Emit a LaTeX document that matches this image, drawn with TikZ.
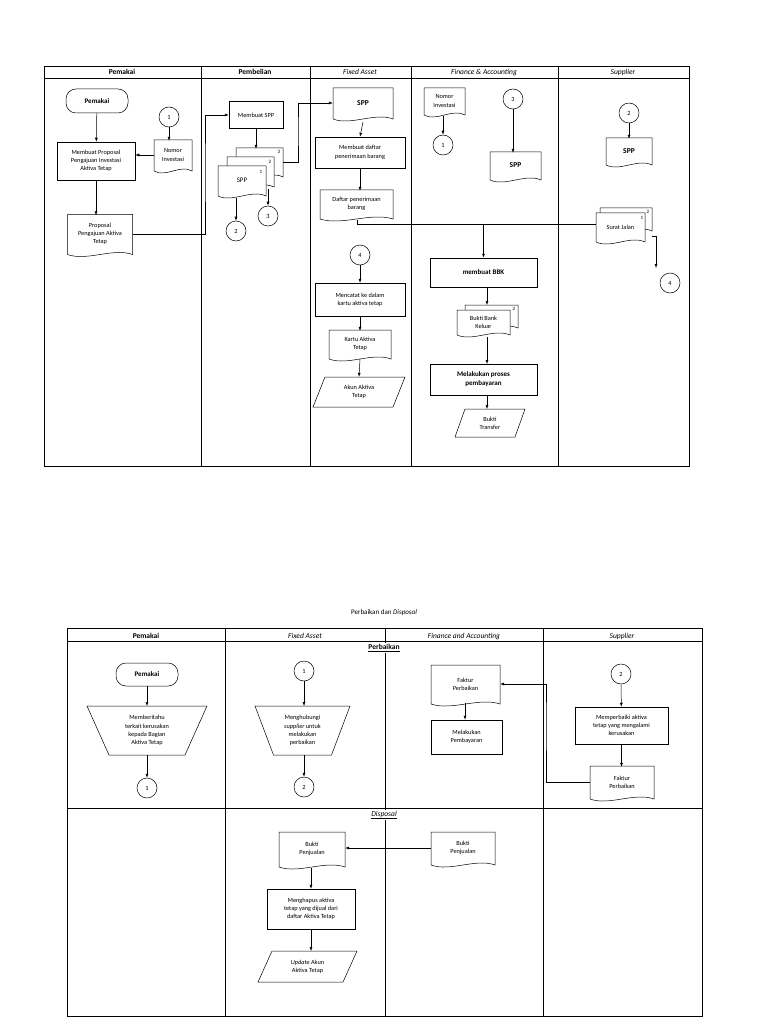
\documentclass[tikz,border=0pt]{standalone}
\usepackage{fontspec}
\setmainfont{Carlito}
\usetikzlibrary{arrows.meta,calc}
\newcommand\docn[6]{%
 \filldraw[fill=white,line width=0.5pt] ({#2-#4/2},{#3-#5/2}) -- ({#2+#4/2},{#3-#5/2}) -- ({#2+#4/2},{#3+#5/2-3}) .. controls +({-0.3*#4},-7) and +({0.3*#4},7) .. ({#2-#4/2},{#3+#5/2-3}) -- cycle;
 \node[base,minimum width=#4pt,minimum height=#5pt-6pt] (#1) at (#2,{#3-2}) {#6};}
\newcommand\manop[7]{%
 \draw[line width=0.5pt] ({#2-#4/2},{#3-#6/2}) -- ({#2+#4/2},{#3-#6/2}) -- ({#2+#5/2},{#3+#6/2}) -- ({#2-#5/2},{#3+#6/2}) -- cycle;
 \node[base,minimum width=#5pt,minimum height=#6pt] (#1) at (#2,#3) {#7};}
\newcommand\para[7]{%
 \draw[line width=0.5pt] ({#2-#4/2+#6},{#3-#5/2}) -- ({#2+#4/2},{#3-#5/2}) -- ({#2+#4/2-#6},{#3+#5/2}) -- ({#2-#4/2},{#3+#5/2}) -- cycle;
 \node[base,minimum width=#4pt-#6pt,minimum height=#5pt] (#1) at (#2,#3) {#7};}
\begin{document}
\begin{tikzpicture}[x=1pt,y=-1pt,
 base/.style={font=\fontsize{6.3}{8.3}\selectfont,align=center,inner sep=1pt},
 box/.style={base,draw,line width=0.5pt},
 conn/.style={base,draw,circle,minimum size=20pt,line width=0.5pt},
 term/.style={base,draw,rounded corners=10pt,line width=0.5pt,font=\fontsize{7}{8}\selectfont\bfseries},
 hdr/.style={inner sep=0pt,anchor=base},
 num/.style={font=\fontsize{5}{6}\selectfont,inner sep=0pt},
 arr/.style={-{Latex[length=4pt,width=3pt]},line width=0.5pt}]
\useasboundingbox (0,0) rectangle (768,1024);
% ---------- top table
\draw[line width=0.8pt] (44,66) rectangle (689,466);
\draw[line width=0.8pt] (44,78) -- (689,78);
\foreach \x in {201,310,411,558} \draw[line width=0.8pt] (\x,66) -- (\x,466);
\node[hdr,font=\fontsize{7.5}{9}\selectfont\bfseries] (h1) at (122,75) {Pemakai};
\node[hdr,font=\fontsize{7.5}{9}\selectfont\bfseries] (h2) at (255,75) {Pembelian};
\node[hdr,font=\fontsize{7.5}{9}\selectfont\itshape] (h3) at (360,75) {Fixed Asset};
\node[hdr,font=\fontsize{7.5}{9}\selectfont\itshape] (h4) at (484,75) {Finance \& Accounting};
\node[hdr,font=\fontsize{7.5}{9}\selectfont\itshape] (h5) at (623,75) {Supplier};
% Pemakai
\node[term,minimum width=62pt,minimum height=24pt] (tp) at (97,101) {Pemakai};
\node[conn] (c1a) at (169,117) {1};
\docn{nomA}{173}{157}{38}{34}{Nomor\\Investasi}
\node[box,minimum width=78pt,minimum height=38pt] (mp) at (96,161) {Membuat Proposal\\Pengajuan Investasi\\Aktiva Tetap};
\docn{prop}{100}{236}{65}{43}{Proposal\\Pengajuan Aktiva\\Tetap}
\draw[arr] (tp) -- (mp);
\draw[arr] (c1a) -- (c1a |- nomA.north);
\draw[arr] (nomA.west) -- (nomA.west -| mp.east);
\draw[arr] (mp) -- (mp |- prop.north);
\coordinate (jA) at (205,170);
% Pembelian
\node[box,minimum width=54pt,minimum height=27pt] (mspp) at (256,115) {Membuat SPP};
\draw[arr] (prop.east) -| (jA) |- (mspp.west);
\docn{d3}{259.5}{164}{47}{32}{}
\node[num] at (279,152) {3};
\docn{d2}{250.5}{173.5}{47}{33}{}
\node[num] at (270,162) {2};
\docn{d1}{242}{182.5}{48}{33}{\fontsize{7}{8}\selectfont SPP}
\node[num] at (261,172) {1};
\draw[arr] (mspp.south) -- (mspp.south |- d3.north);
\node[conn] (c2b) at (236,231) {2};
\node[conn] (c3b) at (268,216) {3};
\draw[arr] (c2b |- 0,198) -- (c2b);
\draw[arr] (c3b |- 0,189) -- (c3b);
\coordinate (jB) at (298,130);
% Fixed Asset
\docn{sppFA}{363}{105}{60}{34}{\fontsize{7.5}{9}\selectfont\bfseries SPP}
\draw[arr] (d3.east) -| (jB) |- (sppFA.west);
\node[box,minimum width=90pt,minimum height=31pt] (mdpb) at (360,152.5) {Membuat daftar\\penerimaan barang};
\docn{daftar}{356.5}{206}{73}{32}{Daftar penerimaan\\barang}
\draw[arr] (363,122) -- (mdpb.north);
\draw[arr] (mdpb.south) -- (mdpb.south |- daftar.north);
\node[conn] (c4a) at (360,255) {4};
\node[box,minimum width=90pt,minimum height=33pt] (mck) at (360,299.5) {Mencatat ke dalam\\kartu aktiva tetap};
\docn{kartu}{360}{346}{62}{32}{Kartu Aktiva\\Tetap}
\para{akun}{359}{392}{92}{30}{12}{Akun Aktiva\\Tetap}
\draw[arr] (c4a) -- (mck);
\draw[arr] (mck) -- (mck |- kartu.north);
\draw[arr] (360,359) -- (akun.north);
% Finance
\docn{nomB}{444.5}{103}{41}{30}{Nomor\\Investasi}
\node[conn] (c1b) at (443,145) {1};
\draw[arr] (443,116) -- (c1b);
\node[conn] (c3c) at (513,99) {3};
\docn{sppB}{515.5}{167.5}{51}{31}{\fontsize{7.5}{9}\selectfont\bfseries SPP}
\draw[arr] (c3c) -- (c3c |- sppB.north);
\node[box,minimum width=107pt,minimum height=29pt,font=\fontsize{7}{8}\selectfont\bfseries] (bbk) at (483.5,272.5) {membuat BBK};
\docn{bk2}{491.5}{318}{53}{26}{}
\node[num] at (514,309) {2};
\docn{bk1}{483.5}{324}{53}{28}{Bukti Bank\\Keluar}
\node[box,minimum width=107pt,minimum height=31pt,font=\fontsize{7}{9}\selectfont\bfseries] (mpp) at (483.5,379.5) {Melakukan proses\\pembayaran};
\para{bt}{490}{423}{70}{28}{10}{Bukti\\Transfer}
\draw[arr] (bbk.south -| 487,0) -- (487,305);
\draw[arr] (487,337) -- (487,364);
\draw[arr] (487,395) -- (487,409);
% Supplier
\node[conn] (c2c) at (629,113) {2};
\docn{sppC}{629}{153}{46}{30}{\fontsize{7.5}{9}\selectfont\bfseries SPP}
\draw[arr] (c2c) -- (c2c |- sppC.north);
\docn{sj2}{626}{221}{52}{26}{}
\node[num] at (648,212) {2};
\docn{sj1}{620.5}{229}{49}{32}{Surat Jalan}
\node[num] at (642,218) {1};
\node[conn] (c4b) at (670,283) {4};
\coordinate (jE) at (656,268);
\draw[arr] (652,236) -| (jE);
% long connector
\coordinate (jC) at (357,224);
\coordinate (jD) at (596,224);
\draw[line width=0.5pt] (357,220) -- (jC) -- (jD);
\draw[arr,line width=1.3pt] (bbk.north |- jC) -- (bbk.north);
% ---------- bottom
\node[font=\fontsize{7}{9}\selectfont] (title) at (384,613) {Perbaikan dan \textit{Disposal}};
\draw[line width=0.8pt] (67,628) rectangle (702,1016);
\draw[line width=0.8pt] (67,641) -- (702,641);
\draw[line width=0.8pt] (67,808) -- (702,808);
\foreach \x in {225,385,543} \draw[line width=0.8pt] (\x,628) -- (\x,1016);
\node[hdr,font=\fontsize{7.5}{9}\selectfont\bfseries] (g1) at (146,638) {Pemakai};
\node[hdr,font=\fontsize{7.5}{9}\selectfont\itshape] (g2) at (305,638) {Fixed Asset};
\node[hdr,font=\fontsize{7.5}{9}\selectfont\itshape] (g3) at (464,638) {Finance and Accounting};
\node[hdr,font=\fontsize{7.5}{9}\selectfont\itshape] (g4) at (622,638) {Supplier};
\node[fill=white,inner sep=1pt,font=\fontsize{7.5}{9}\selectfont\bfseries] (lp) at (384,648) {\underline{Perbaikan}};
\node[fill=white,inner sep=1pt,font=\fontsize{7.5}{9}\selectfont\itshape] (ld) at (384,815) {\underline{Disposal}};
% Pemakai
\node[term,minimum width=62pt,minimum height=23pt] (tp2) at (147,674.5) {Pemakai};
\manop{mb}{147}{730.5}{120}{76}{49}{Memberitahu\\terkait kerusakan\\kepada Bagian\\Aktiva Tetap}
\node[conn] (c1d) at (147,788) {1};
\draw[arr] (tp2) -- (tp2 |- 0,706);
\draw[arr] (147,755) -- (c1d);
% Fixed asset
\node[conn] (c1e) at (304,671) {1};
\manop{mh}{302.5}{730.5}{95}{58}{49}{Menghubungi\\\textit{supplier} untuk\\melakukan\\perbaikan}
\node[conn] (c2e) at (304,787) {2};
\draw[arr] (c1e) -- (c1e |- 0,706);
\draw[arr] (304,755) -- (c2e);
% Finance
\docn{fak1}{465.5}{686}{69}{42}{Faktur\\Perbaikan}
\node[box,minimum width=71pt,minimum height=34pt] (mpb) at (466.5,737) {Melakukan\\Pembayaran};
\draw[arr] (465,703) -- (mpb.north -| 465,0);
% Supplier
\node[conn] (c2f) at (621,674) {2};
\node[box,minimum width=93pt,minimum height=37pt] (mpa) at (621.5,725.5) {Memperbaiki aktiva\\tetap yang mengalami\\kerusakan};
\docn{fak2}{622}{784}{64}{36}{Faktur\\Perbaikan}
\draw[arr] (c2f) -- (mpa);
\draw[arr] (mpa) -- (mpa |- fak2.north);
\coordinate (jF) at (546,720);
\draw[arr] (fak2.west) -| (jF) |- (fak1.east);
% Disposal
\docn{bpA}{312}{851}{66}{38}{Bukti\\Penjualan}
\docn{bpB}{463}{850}{64}{36}{Bukti\\Penjualan}
\draw[arr] (bpB.west) -- (bpB.west -| bpA.east);
\node[box,minimum width=88pt,minimum height=40pt] (mha) at (311,909) {Menghapus aktiva\\tetap yang dijual dari\\daftar Aktiva Tetap};
\para{upd}{307.5}{966.5}{99}{31}{14}{\textit{Update} Akun\\Aktiva Tetap}
\draw[arr] (311,868) -- (mha.north);
\draw[arr] (mha.south) -- (mha.south |- 0,951);
\end{tikzpicture}
\end{document}
